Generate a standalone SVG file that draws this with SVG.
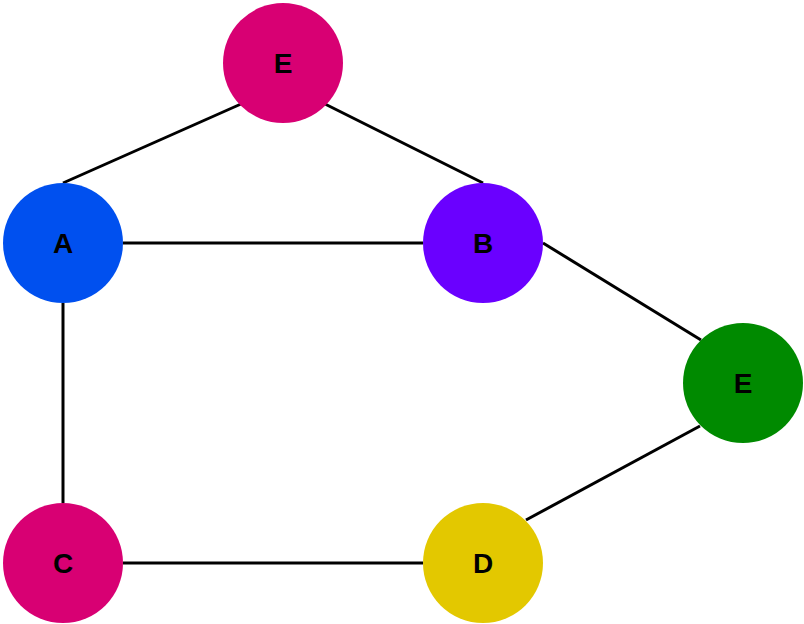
<svg xmlns="http://www.w3.org/2000/svg" width="804" height="624" viewBox="0 0 804 624">
<style>
.edge{stroke:#000;stroke-width:3;fill:none}
.lbl{font-family:"Liberation Sans",Arial,sans-serif;font-weight:bold;font-size:28px;fill:#000;text-anchor:middle}
</style>
<rect width="804" height="624" fill="#fff"/>
<g id="connectors">
<line class="edge" x1="63" y1="183" x2="241" y2="104"/>
<line class="edge" x1="325" y1="104" x2="483" y2="183"/>
<line class="edge" x1="123" y1="243" x2="423" y2="243"/>
<line class="edge" x1="63" y1="303" x2="63" y2="503"/>
<line class="edge" x1="123" y1="563" x2="423" y2="563"/>
<line class="edge" x1="543" y1="243" x2="701" y2="340"/>
<line class="edge" x1="700" y1="426" x2="526" y2="520"/>
</g>
<g id="nodeE1"><circle cx="283" cy="63" r="60" fill="#d80073"/><text class="lbl" x="283" y="72.5">E</text></g>
<g id="nodeA"><circle cx="63" cy="243" r="60" fill="#0050ef"/><text class="lbl" x="63" y="252.5">A</text></g>
<g id="nodeB"><circle cx="483" cy="243" r="60" fill="#6a00ff"/><text class="lbl" x="483" y="252.5">B</text></g>
<g id="nodeE2"><circle cx="743" cy="383" r="60" fill="#008a00"/><text class="lbl" x="743" y="392.5">E</text></g>
<g id="nodeC"><circle cx="63" cy="563" r="60" fill="#d80073"/><text class="lbl" x="63" y="572.5">C</text></g>
<g id="nodeD"><circle cx="483" cy="563" r="60" fill="#e3c800"/><text class="lbl" x="483" y="572.5">D</text></g>
</svg>
